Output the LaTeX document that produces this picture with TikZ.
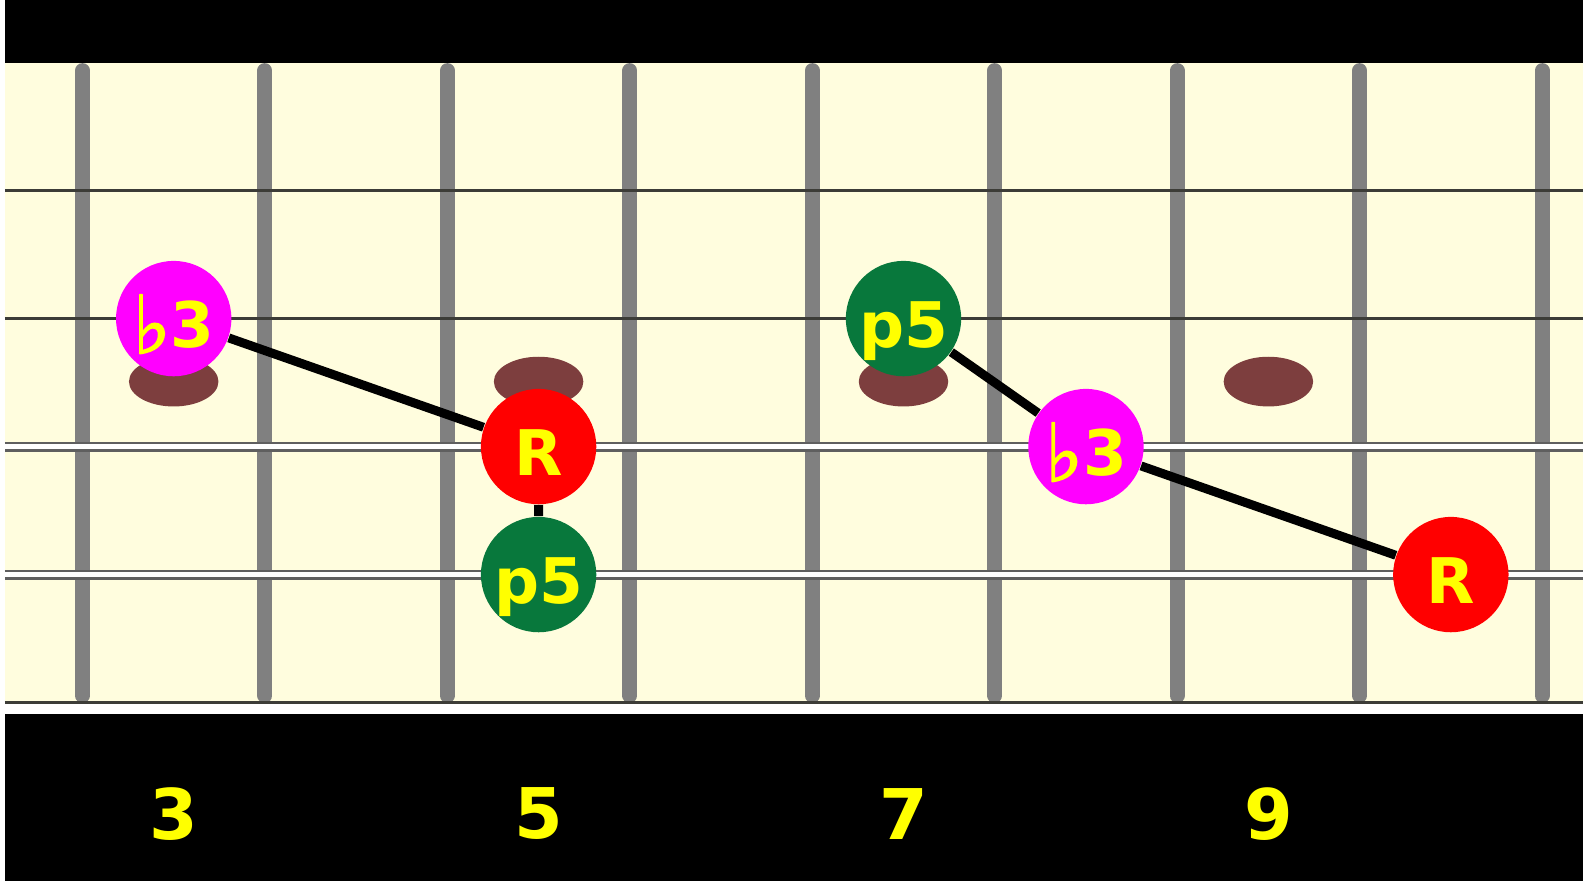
\documentclass[tikz,border=0pt]{standalone}
\usepackage{fontspec}
\setmainfont{DejaVu Sans}
\newfontfamily\symfont[FakeBold=2]{DejaVu Sans}
\usetikzlibrary{positioning}
\definecolor{boardcream}{RGB}{255,253,222}
\definecolor{fretgray}{RGB}{128,128,128}
\definecolor{stringdark}{RGB}{60,60,55}
\definecolor{woundgray}{RGB}{95,95,95}
\definecolor{inlaybrown}{RGB}{125,62,62}
\definecolor{noteyellow}{RGB}{255,255,0}
\definecolor{rootred}{RGB}{255,0,0}
\definecolor{thirdpink}{RGB}{255,0,255}
\definecolor{fifthgreen}{RGB}{8,120,60}
\newcommand{\flatsign}{\raisebox{-0.06cm}{\symfont\fontsize{23}{23}\selectfont\char"266D}}
\pgfdeclarelayer{board}
\pgfdeclarelayer{links}
\pgfsetlayers{board,links,main}
\begin{document}
\begin{tikzpicture}[x=0.01cm,y=-0.01cm,
    note/.style={circle,minimum size=1.16cm,inner sep=0pt,text=noteyellow,
      text height=0.58cm,text depth=0cm,font=\bfseries\fontsize{18}{18}\selectfont},
    rootnote/.style={note,fill=rootred},
    thirdnote/.style={note,fill=thirdpink},
    fifthnote/.style={note,fill=fifthgreen},
    link/.style={line width=0.09cm,black},
    fretnum/.style={text=noteyellow,font=\bfseries\fontsize{20}{20}\selectfont}]
  \begin{pgfonlayer}{board}
    \fill[black] (0,0) rectangle (1588,887);
    \fill[boardcream] (0,63) rectangle (1588,708);
    \fill[white] (0,708) rectangle (1588,718);
    % frets
    \foreach \i in {0,...,8}
      \draw[fretgray,line width=0.15cm,line cap=round] ({78+183.6*\i},71) -- ({78+183.6*\i},700);
    % inlays
    \foreach \n in {3,5,7,9}
      \fill[inlaybrown] ({78+183.6*(\n-2.5)},384) ellipse [x radius=0.45cm,y radius=0.25cm];
    % strings
    \foreach \y in {191.8,320.6}
      \draw[stringdark,line width=0.03cm] (0,\y) -- (1588,\y);
    \foreach \y in {449.4,578.2} {
      \draw[woundgray,line width=0.1cm] (0,\y) -- (1588,\y);
      \draw[white,line width=0.045cm] (0,\y) -- (1588,\y);
    }
    \draw[stringdark,line width=0.03cm] (0,707) -- (1588,707);
  \end{pgfonlayer}

  % notes
  \node[thirdnote] (flat3a) at (169.8,320.6) {\flatsign3};
  \node[rootnote] (roota) at (537,449.4) {R};
  \node[fifthnote] (fiftha) at (537,578.2) {p5};
  \node[fifthnote] (fifthb) at (904.2,320.6) {p5};
  \node[thirdnote] (flat3b) at (1087.8,449.4) {\flatsign3};
  \node[rootnote] (rootb) at (1455,578.2) {R};

  \begin{pgfonlayer}{links}
    \draw[link] (flat3a) -- (roota) -- (fiftha);
    \draw[link] (fifthb) -- (flat3b) -- (rootb);
  \end{pgfonlayer}

  % fret numbers
  \node[fretnum] (num3) at (169.8,819) {3};
  \node[fretnum] (num5) at (537,819) {5};
  \node[fretnum] (num7) at (904.2,819) {7};
  \node[fretnum] (num9) at (1271.4,819) {9};
\end{tikzpicture}
\end{document}
